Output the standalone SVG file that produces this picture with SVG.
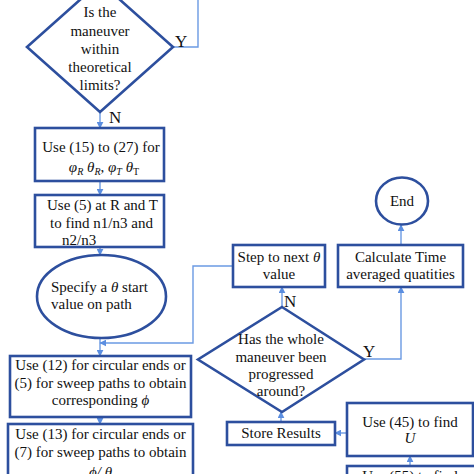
<svg xmlns="http://www.w3.org/2000/svg" width="474" height="474" viewBox="0 0 474 474">
<defs>
<marker id="ah" viewBox="0 0 10 10" refX="9" refY="5" markerWidth="7" markerHeight="7" orient="auto" markerUnits="userSpaceOnUse">
<path d="M0,0 L10,5 L0,10 z" fill="#5b8ee0"/>
</marker>
<style>
.n{fill:#fff;stroke:#2d4f9e;stroke-width:2.6}
.c{fill:none;stroke:#6b9ae3;stroke-width:1.4}
text{font-family:"Liberation Serif","Times New Roman",serif;font-size:15px;fill:#111}
.m{text-anchor:middle}
.i{font-style:italic}
.lb{font-size:17px}
</style>
</defs>
<rect width="474" height="474" fill="#fff"/>
<g id="connectors">
<path class="c" d="M173,47 H198 V0"/>
<path class="c" d="M100,112 V128" marker-end="url(#ah)"/>
<path class="c" d="M100,181 V195" marker-end="url(#ah)"/>
<path class="c" d="M100,247 V255" marker-end="url(#ah)"/>
<path class="c" d="M100,338 V356" marker-end="url(#ah)"/>
<path class="c" d="M233,266 H193 V343 H100" marker-end="url(#ah)"/>
<path class="c" d="M100,417 V424" marker-end="url(#ah)"/>
<path class="c" d="M282,307 V287" marker-end="url(#ah)"/>
<path class="c" d="M364,359 H401 V287" marker-end="url(#ah)"/>
<path class="c" d="M401,245 V225" marker-end="url(#ah)"/>
<path class="c" d="M281,422 V412" marker-end="url(#ah)"/>
<path class="c" d="M347,433 H335" marker-end="url(#ah)"/>
<path class="c" d="M410,466 V456" marker-end="url(#ah)"/>
<text class="lb" x="175" y="47">Y</text>
<text class="lb" x="109" y="123">N</text>
<text class="lb" x="284" y="307">N</text>
<text class="lb" x="363" y="357">Y</text>
</g>
<g id="d1">
<polygon class="n" points="100,-18 173,47 100,112 27,47"/>
<text class="m" x="100" y="17">Is the</text>
<text class="m" x="100" y="36">maneuver</text>
<text class="m" x="100" y="54">within</text>
<text class="m" x="100" y="72">theoretical</text>
<text class="m" x="100" y="90">limits?</text>
</g>
<g id="b1">
<rect class="n" x="35" y="128" width="129" height="53"/>
<text class="m" x="101" y="152">Use (15) to (27) for</text>
<text class="m" x="104" y="172"><tspan class="i">φ</tspan><tspan class="i" font-size="10" dy="3">R</tspan><tspan class="i" dy="-3"> θ</tspan><tspan class="i" font-size="10" dy="3">R</tspan><tspan dy="-3">, </tspan><tspan class="i">φ</tspan><tspan class="i" font-size="10" dy="3">T</tspan><tspan class="i" dy="-3"> θ</tspan><tspan font-size="10" dy="3">T</tspan></text>
</g>
<g id="b2">
<rect class="n" x="35" y="195" width="129" height="52"/>
<text x="47" y="210">Use (5) at R and T</text>
<text x="50" y="228">to find n1/n3 and</text>
<text x="62" y="245">n2/n3</text>
</g>
<g id="e1">
<ellipse class="n" cx="101.5" cy="296.5" rx="64.5" ry="41.5"/>
<text x="51" y="292">Specify a <tspan class="i">θ</tspan> start</text>
<text x="51" y="309">value on path</text>
</g>
<g id="b3">
<rect class="n" x="10" y="356" width="181" height="61"/>
<text class="m" x="100.5" y="370">Use (12) for circular ends or</text>
<text class="m" x="100.5" y="388">(5) for sweep paths to obtain</text>
<text class="m" x="100.5" y="405">corresponding <tspan class="i">ϕ</tspan></text>
</g>
<g id="b4">
<rect class="n" x="8" y="424" width="185" height="60"/>
<text class="m" x="100.5" y="439">Use (13) for circular ends or</text>
<text class="m" x="100.5" y="457">(7) for sweep paths to obtain</text>
<text class="m i" x="100.5" y="477">ϕ/ θ</text>
</g>
<g id="end">
<ellipse class="n" cx="402" cy="201" rx="26" ry="23.5"/>
<text class="m" x="402" y="206">End</text>
</g>
<g id="calc">
<rect class="n" x="338" y="245" width="125" height="42"/>
<text class="m" x="400.5" y="262">Calculate Time</text>
<text class="m" x="400.5" y="279">averaged quatities</text>
</g>
<g id="step">
<rect class="n" x="233" y="245" width="92" height="42"/>
<text class="m" x="279" y="262">Step to next <tspan class="i">θ</tspan></text>
<text class="m" x="279" y="279">value</text>
</g>
<g id="d2">
<polygon class="n" points="282,307 364,359.5 282,412 198,359.5"/>
<text class="m" x="281" y="344">Has the whole</text>
<text class="m" x="281" y="362">maneuver been</text>
<text class="m" x="281" y="379">progressed</text>
<text class="m" x="281" y="396">around?</text>
</g>
<g id="store">
<rect class="n" x="227" y="422" width="108" height="23"/>
<text class="m" x="281" y="438">Store Results</text>
</g>
<g id="u45">
<rect class="n" x="347" y="403" width="126" height="53"/>
<text class="m" x="410" y="427">Use (45) to find</text>
<text class="m i" x="410" y="443">U</text>
</g>
<g id="u55">
<rect class="n" x="347" y="466" width="130" height="30"/>
<text class="m" x="410" y="481">Use (55) to find</text>
</g>
</svg>
